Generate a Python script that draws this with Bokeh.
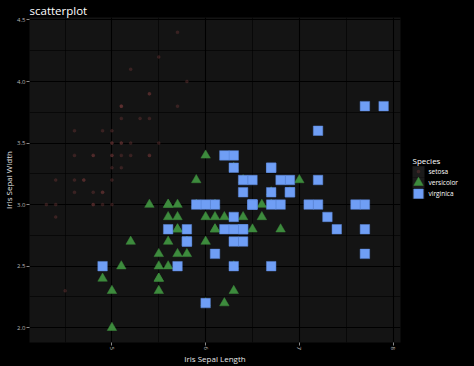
import numpy as np
from jinja2 import Template
from bokeh.plotting import figure
from bokeh.models import Range1d, FixedTicker, NumeralTickFormatter
from bokeh.layouts import row
from bokeh.embed import file_html
from bokeh.resources import INLINE
from bokeh.core.properties import value
from bokeh.core.templates import FILE

species = ["setosa", "versicolor", "virginica"]

setosa_length = [5.1, 4.9, 4.7, 4.6, 5.0, 5.4, 4.6, 5.0, 4.4, 4.9, 5.4, 4.8, 4.8, 4.3, 5.8, 5.7, 5.4, 5.1, 5.7, 5.1,
                 5.4, 5.1, 4.6, 5.1, 4.8, 5.0, 5.0, 5.2, 5.2, 4.7, 4.8, 5.4, 5.2, 5.5, 4.9, 5.0, 5.5, 4.9, 4.4, 5.1,
                 5.0, 4.5, 4.4, 5.0, 5.1, 4.8, 5.1, 4.6, 5.3, 5.0]
setosa_width = [3.5, 3.0, 3.2, 3.1, 3.6, 3.9, 3.4, 3.4, 2.9, 3.1, 3.7, 3.4, 3.0, 3.0, 4.0, 4.4, 3.9, 3.5, 3.8, 3.8,
                3.4, 3.7, 3.6, 3.3, 3.4, 3.0, 3.4, 3.5, 3.4, 3.2, 3.1, 3.4, 4.1, 4.2, 3.1, 3.2, 3.5, 3.6, 3.0, 3.4,
                3.5, 2.3, 3.2, 3.5, 3.8, 3.0, 3.8, 3.2, 3.7, 3.3]
versicolor_length = [7.0, 6.4, 6.9, 5.5, 6.5, 5.7, 6.3, 4.9, 6.6, 5.2, 5.0, 5.9, 6.0, 6.1, 5.6, 6.7, 5.6, 5.8, 6.2, 5.6,
                     5.9, 6.1, 6.3, 6.1, 6.4, 6.6, 6.8, 6.7, 6.0, 5.7, 5.5, 5.5, 5.8, 6.0, 5.4, 6.0, 6.7, 6.3, 5.6, 5.5,
                     5.5, 6.1, 5.8, 5.0, 5.6, 5.7, 5.7, 6.2, 5.1, 5.7]
versicolor_width = [3.2, 3.2, 3.1, 2.3, 2.8, 2.8, 3.3, 2.4, 2.9, 2.7, 2.0, 3.0, 2.2, 2.9, 2.9, 3.1, 3.0, 2.7, 2.2, 2.5,
                    3.2, 2.8, 2.5, 2.8, 2.9, 3.0, 2.8, 3.0, 2.9, 2.6, 2.4, 2.4, 2.7, 2.7, 3.0, 3.4, 3.1, 2.3, 3.0, 2.5,
                    2.6, 3.0, 2.6, 2.3, 2.7, 3.0, 2.9, 2.9, 2.5, 2.8]
virginica_length = [6.3, 5.8, 7.1, 6.3, 6.5, 7.6, 4.9, 7.3, 6.7, 7.2, 6.5, 6.4, 6.8, 5.7, 5.8, 6.4, 6.5, 7.7, 7.7, 6.0,
                    6.9, 5.6, 7.7, 6.3, 6.7, 7.2, 6.2, 6.1, 6.4, 7.2, 7.4, 7.9, 6.4, 6.3, 6.1, 7.7, 6.3, 6.4, 6.0, 6.9,
                    6.7, 6.9, 5.8, 6.8, 6.7, 6.7, 6.3, 6.5, 6.2, 5.9]
virginica_width = [3.3, 2.7, 3.0, 2.9, 3.0, 3.0, 2.5, 2.9, 2.5, 3.6, 3.2, 2.7, 3.0, 2.5, 2.8, 3.2, 3.0, 3.8, 2.6, 2.2,
                   3.2, 2.8, 2.8, 2.7, 3.3, 3.2, 2.8, 3.0, 2.8, 3.0, 2.8, 3.8, 2.8, 2.8, 2.6, 3.0, 3.4, 3.1, 3.0, 3.1,
                   3.1, 3.1, 2.7, 3.2, 3.3, 3.0, 2.5, 3.0, 3.4, 3.0]

x_ticks = [5, 6, 7, 8]
x_minor = [4.5, 5.5, 6.5, 7.5]
y_ticks = [2.0, 2.5, 3.0, 3.5, 4.0, 4.5]
y_minor = [2.25, 2.75, 3.25, 3.75, 4.25]

FONT = "Open Sans"
PANEL = "#141414"

styles = {
    "setosa": dict(marker="circle", size=3, fill_color="#6e3636", line_color="#6e3636", alpha=0.4),
    "versicolor": dict(marker="triangle", size=9.5, fill_color="#3d8b3d", line_color="#3d8b3d", alpha=1.0),
    "virginica": dict(marker="square", size=9.5, fill_color="#6f9ef5", line_color="#5a86d8", alpha=1.0),
}
data = {
    "setosa": (setosa_length, setosa_width),
    "versicolor": (versicolor_length, versicolor_width),
    "virginica": (virginica_length, virginica_width),
}

all_x = setosa_length + versicolor_length + virginica_length
all_y = setosa_width + versicolor_width + virginica_width
xpad = (max(all_x) - min(all_x)) * 0.05
ypad = (max(all_y) - min(all_y)) * 0.05

W, H = 474, 366
MAIN_W = 402

p = figure(width=MAIN_W, height=H,
           x_range=Range1d(min(all_x) - xpad, max(all_x) + xpad),
           y_range=Range1d(min(all_y) - ypad, max(all_y) + ypad),
           output_backend="svg", toolbar_location=None, title="scatterplot",
           min_border_left=24, min_border_right=2, min_border_top=17, min_border_bottom=22)
p.background_fill_color = PANEL
p.border_fill_color = "black"
p.outline_line_color = None

p.title.text_font = FONT
p.title.text_font_size = "11.5px"
p.title.text_color = "white"
p.title.text_font_style = "normal"
p.title.standoff = 0

xt = FixedTicker(ticks=x_ticks, minor_ticks=x_minor)
yt = FixedTicker(ticks=y_ticks, minor_ticks=y_minor)
p.xaxis.ticker = xt
p.yaxis.ticker = yt
p.xgrid.ticker = xt
p.ygrid.ticker = yt
p.xaxis.formatter = NumeralTickFormatter(format="0")
p.yaxis.formatter = NumeralTickFormatter(format="0.0")

for g in (p.xgrid, p.ygrid):
    g.grid_line_color = "black"
    g.grid_line_width = 1.1
    g.minor_grid_line_color = "black"
    g.minor_grid_line_width = 0.6

p.axis.axis_line_color = None
p.axis.minor_tick_line_color = None
p.axis.major_tick_line_color = "#8a8a8a"
p.axis.major_tick_out = 3
p.axis.major_tick_in = 0
p.axis.major_label_text_font = FONT
p.axis.major_label_text_font_size = "6px"
p.axis.major_label_text_color = "#b5b5b5"
p.axis.major_label_standoff = 0
p.axis.axis_label_text_font = FONT
p.axis.axis_label_text_font_size = "8px"
p.axis.axis_label_text_color = "#e6e6e6"
p.axis.axis_label_text_font_style = "normal"
p.axis.axis_label_standoff = 0
p.xaxis.major_label_orientation = "vertical"
p.xaxis.axis_label = "Iris Sepal Length"
p.yaxis.axis_label = "Iris Sepal Width"

for sp in species:
    xs, ys = data[sp]
    p.scatter(xs, ys, line_width=0.5, **styles[sp])

# legend drawn in a small side panel
LW = W - MAIN_W
leg = figure(width=LW, height=H, x_range=Range1d(0, LW), y_range=Range1d(H, 0),
             output_backend="svg", toolbar_location=None, x_axis_type=None, y_axis_type=None,
             min_border=0)
leg.background_fill_color = "black"
leg.border_fill_color = "black"
leg.outline_line_color = None
leg.grid.visible = False

key_x = 16
key_y0 = 173.5
key_step = 12.5
key_ys = [key_y0 + i * key_step for i in range(len(species))]
leg.text(x=[10], y=[key_y0 - 13], text=["Species"], text_font=value(FONT), text_font_size="8px",
         text_color="white", text_baseline="middle", text_align="left")
leg.rect(x=[key_x] * len(species), y=key_ys, width=12, height=12, fill_color="#1b1b1b", line_color=None)
for i, sp in enumerate(species):
    leg.scatter([key_x], [key_ys[i]], line_width=0.5, **styles[sp])
leg.text(x=[key_x + 10] * len(species), y=key_ys, text=species, text_font=value(FONT),
         text_font_size="6.5px", text_color="white", text_baseline="middle", text_align="left")

layout = row(p, leg)

template = Template(
    "{% extends base %}"
    "{% block preamble %}<style>html, body { margin: 0; padding: 0; background: #000000; overflow: hidden; }</style>{% endblock %}"
)
open("out.html", "w").write(file_html(layout, INLINE, template=template, template_variables={"base": FILE}))
